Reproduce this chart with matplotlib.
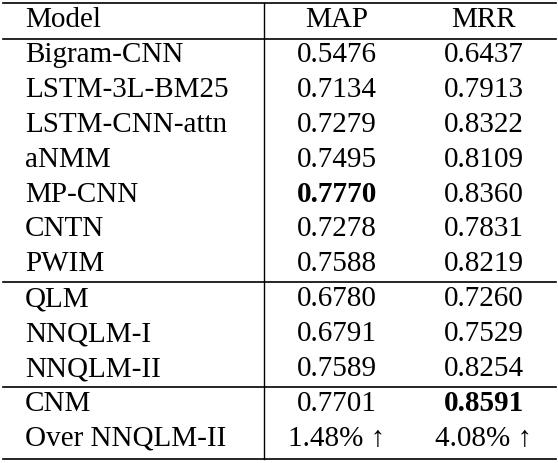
import matplotlib.pyplot as plt

models = ["Bigram-CNN", "LSTM-3L-BM25", "LSTM-CNN-attn", "aNMM", "MP-CNN", "CNTN", "PWIM",
          "QLM", "NNQLM-I", "NNQLM-II", "CNM", "Over NNQLM-II"]
map_vals = ["0.5476", "0.7134", "0.7279", "0.7495", "0.7770", "0.7278", "0.7588",
            "0.6780", "0.6791", "0.7589", "0.7701", "1.48% ↑"]
mrr_vals = ["0.6437", "0.7913", "0.8322", "0.8109", "0.8360", "0.7831", "0.8219",
            "0.7260", "0.7529", "0.8254", "0.8591", "4.08% ↑"]
bold_map = {4}
bold_mrr = {10}

W, H = 558, 464
fig = plt.figure(figsize=(W / 100, H / 100), dpi=100)
ax = fig.add_axes([0, 0, 1, 1])
ax.set_xlim(0, W)
ax.set_ylim(H, 0)
ax.axis("off")

font = dict(family=["Liberation Serif", "DejaVu Serif"], fontsize=21, va="center")
x_model, x_map, x_mrr = 25, 337, 484

ax.text(x_model, 20, "Model", ha="left", **font)
ax.text(x_map, 20, "MAP", ha="center", **font)
ax.text(x_mrr, 20, "MRR", ha="center", **font)

y0, dy = 55, 34.9
for i, (m, a, r) in enumerate(zip(models, map_vals, mrr_vals)):
    y = y0 + i * dy
    ax.text(x_model, y, m, ha="left", **font)
    ax.text(x_map, y, a, ha="center", weight="bold" if i in bold_map else "normal", **font)
    ax.text(x_mrr, y, r, ha="center", weight="bold" if i in bold_mrr else "normal", **font)

for y in [4, 40, 283, 388, 460]:
    ax.plot([3, W - 2], [y, y], color="black", lw=1.2)
ax.plot([264, 264], [4, 460], color="black", lw=1.0)

fig.savefig("out.png", dpi=100)
